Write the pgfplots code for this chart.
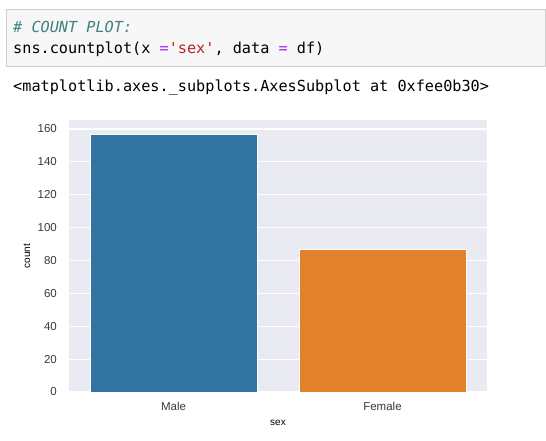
\documentclass[border=0pt]{standalone}
\usepackage{pgfplots}
\pgfplotsset{compat=1.18}
\usepackage{fontspec}
\setmainfont{Liberation Sans}
\newfontfamily\codefont{DejaVu Sans Mono}
\definecolor{axbg}{HTML}{EAEAF2}
\definecolor{barblue}{HTML}{3274A1}
\definecolor{barorange}{HTML}{E1812C}
\definecolor{txt}{HTML}{3A3A3A}
\definecolor{cellbg}{HTML}{F7F7F7}
\definecolor{cellbd}{HTML}{CFCFCF}
\definecolor{cmt}{HTML}{408080}
\definecolor{strc}{HTML}{BA2121}
\definecolor{opc}{HTML}{AA22FF}
\begin{document}
\begin{tikzpicture}[x=1pt,y=1pt]
\fill[white] (0,0) rectangle (546,441);
\draw[cellbd, fill=cellbg, line width=0.8pt] (6,431.5) rectangle (545.5,375);
\node[anchor=base west, inner sep=0pt] at (13,408) {\fontsize{15.2}{18}\codefont\color{cmt}\itshape \# COUNT PLOT:};
\node[anchor=base west, inner sep=0pt] at (13,387) {\fontsize{15.2}{18}\codefont sns.countplot(x {\color{opc}=}{\color{strc}'sex'}, data {\color{opc}=} df)};
\node[anchor=base west, inner sep=0pt] at (13,349) {\fontsize{15.2}{18}\codefont <matplotlib.axes.\_subplots.AxesSubplot at 0xfee0b30>};
\begin{axis}[
  at={(69pt,49pt)}, anchor=south west,
  scale only axis, width=418pt, height=272pt,
  xmin=-0.5, xmax=1.5, ymin=0, ymax=165.5,
  axis background/.style={fill=axbg},
  axis line style={draw=none},
  major tick length=0pt,
  xtick={0,1}, xticklabels={Male,Female},
  ytick={0,20,...,160},
  ymajorgrids, grid style={white, line width=1.1pt},
  /pgf/number format/assume math mode=true,
  tick label style={font=\fontsize{11.5}{13}\selectfont, text=txt},
  xticklabel style={anchor=north, inner sep=0pt, yshift=-10pt},
  yticklabel style={anchor=east, inner sep=0pt, xshift=-12pt},
  xlabel={sex}, ylabel={count},
  label style={font=\fontsize{11.5}{13}\selectfont, text=txt},
  every axis x label/.style={at={(axis description cs:0.5,-0.114)}, anchor=center},
  every axis y label/.style={at={(axis description cs:-0.1005,0.5)}, anchor=center, rotate=90},
]
\addplot[ybar, bar width=0.8, bar shift=0pt, fill=barblue, draw=white, line width=0.8pt] coordinates {(0,157)};
\addplot[ybar, bar width=0.8, bar shift=0pt, fill=barorange, draw=white, line width=0.8pt] coordinates {(1,87)};
\end{axis}
\end{tikzpicture}
\end{document}
